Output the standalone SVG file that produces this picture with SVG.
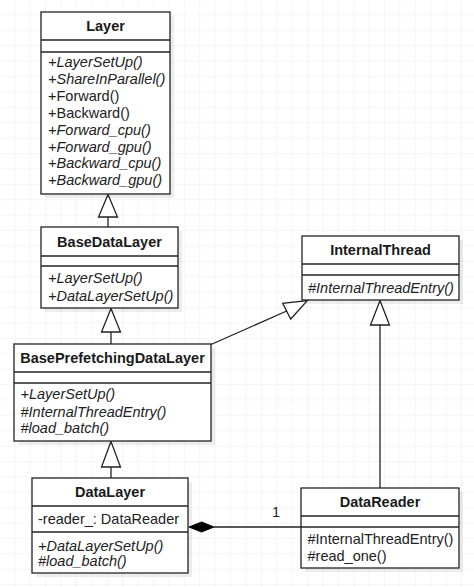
<svg xmlns="http://www.w3.org/2000/svg" width="474" height="587" viewBox="0 0 474 587">
<defs>
<pattern id="grid" width="15.4" height="15.4" patternUnits="userSpaceOnUse" x="0" y="0">
<path d="M15.4 0 V15.4 M0 15.4 H15.4" fill="none" stroke="#ececec" stroke-width="1"/>
</pattern>
<style>
.box{fill:#ffffff;stroke:#222222;stroke-width:1.3}
.shadow{fill:#000000;opacity:0.07}
.sep{stroke:#222222;stroke-width:1.3}
.title{font-family:"Liberation Sans",Arial,sans-serif;font-size:14.5px;font-weight:bold;fill:#1a1a1a;text-anchor:middle}
.m{font-family:"Liberation Sans",Arial,sans-serif;font-size:14.5px;fill:#222222}
.i{font-style:italic}
.line{fill:none;stroke:#222222;stroke-width:1.3}
.tri{fill:#ffffff;stroke:#222222;stroke-width:1.3}
.dia{fill:#000000;stroke:#000000;stroke-width:1}
</style>
</defs>
<rect width="474" height="587" fill="#ffffff"/>
<rect width="474" height="587" fill="url(#grid)"/>

<g id="connectors">
<!-- BaseDataLayer -> Layer -->
<line class="line" x1="108" y1="217" x2="108" y2="227"/>
<polygon class="tri" points="108,194.5 98.5,217 117.5,217"/>
<!-- BasePrefetchingDataLayer -> BaseDataLayer -->
<line class="line" x1="111" y1="332" x2="111" y2="344"/>
<polygon class="tri" points="111,308.5 101.5,332 120.5,332"/>
<!-- DataLayer -> BasePrefetchingDataLayer -->
<line class="line" x1="111" y1="467" x2="111" y2="478"/>
<polygon class="tri" points="111,441.5 101.5,467 120.5,467"/>
<!-- DataReader -> InternalThread -->
<line class="line" x1="380" y1="325" x2="380" y2="488"/>
<polygon class="tri" points="380,300.5 370.5,325 389.5,325"/>
<!-- BasePrefetchingDataLayer -> InternalThread -->
<line class="line" x1="211" y1="344.5" x2="286.7" y2="311"/>
<polygon class="tri" points="307.3,300.7 282.7,303.3 290.7,319"/>
<!-- composition DataLayer <>- DataReader -->
<line class="line" x1="214" y1="527" x2="301" y2="527"/>
<polygon class="dia" points="189,527 201.5,522 214,527 201.5,532"/>
<text class="m" x="276" y="517" text-anchor="middle">1</text>
</g>

<g id="Layer">
<rect class="shadow" x="45" y="16" width="129" height="182"/>
<rect class="box" x="41" y="12" width="129" height="182"/>
<line class="sep" x1="41" y1="40" x2="170" y2="40"/>
<line class="sep" x1="41" y1="52" x2="170" y2="52"/>
<text class="title" x="105.5" y="31">Layer</text>
<text class="m i" x="48" y="67">+LayerSetUp()</text>
<text class="m i" x="48" y="84">+ShareInParallel()</text>
<text class="m" x="48" y="101">+Forward()</text>
<text class="m" x="48" y="118">+Backward()</text>
<text class="m i" x="48" y="135">+Forward_cpu()</text>
<text class="m i" x="48" y="151.5">+Forward_gpu()</text>
<text class="m i" x="48" y="168">+Backward_cpu()</text>
<text class="m i" x="48" y="185">+Backward_gpu()</text>
</g>

<g id="BaseDataLayer">
<rect class="shadow" x="45" y="231" width="137" height="81"/>
<rect class="box" x="41" y="227" width="137" height="81"/>
<line class="sep" x1="41" y1="256" x2="178" y2="256"/>
<line class="sep" x1="41" y1="266" x2="178" y2="266"/>
<text class="title" x="109.5" y="247">BaseDataLayer</text>
<text class="m i" x="48" y="283">+LayerSetUp()</text>
<text class="m i" x="48" y="301">+DataLayerSetUp()</text>
</g>

<g id="BasePrefetchingDataLayer">
<rect class="shadow" x="18" y="348" width="197" height="97"/>
<rect class="box" x="14" y="344" width="197" height="97"/>
<line class="sep" x1="14" y1="372" x2="211" y2="372"/>
<line class="sep" x1="14" y1="383" x2="211" y2="383"/>
<text class="title" x="112.5" y="363">BasePrefetchingDataLayer</text>
<text class="m i" x="20.5" y="399">+LayerSetUp()</text>
<text class="m i" x="20.5" y="416.5">#InternalThreadEntry()</text>
<text class="m i" x="20.5" y="433">#load_batch()</text>
</g>

<g id="InternalThread">
<rect class="shadow" x="306" y="240" width="157" height="64"/>
<rect class="box" x="302" y="236" width="157" height="64"/>
<line class="sep" x1="302" y1="264" x2="459" y2="264"/>
<line class="sep" x1="302" y1="275" x2="459" y2="275"/>
<text class="title" x="380.5" y="255">InternalThread</text>
<text class="m i" x="308" y="293">#InternalThreadEntry()</text>
</g>

<g id="DataLayer">
<rect class="shadow" x="36" y="482" width="156" height="95"/>
<rect class="box" x="32" y="478" width="156" height="95"/>
<line class="sep" x1="32" y1="506" x2="188" y2="506"/>
<line class="sep" x1="32" y1="532" x2="188" y2="532"/>
<text class="title" x="110" y="497">DataLayer</text>
<text class="m" x="38" y="524">-reader_: DataReader</text>
<text class="m i" x="38" y="551">+DataLayerSetUp()</text>
<text class="m i" x="38" y="565.5">#load_batch()</text>
</g>

<g id="DataReader">
<rect class="shadow" x="305" y="492" width="158" height="80"/>
<rect class="box" x="301" y="488" width="158" height="80"/>
<line class="sep" x1="301" y1="516" x2="459" y2="516"/>
<line class="sep" x1="301" y1="527" x2="459" y2="527"/>
<text class="title" x="380" y="507">DataReader</text>
<text class="m" x="307.5" y="544">#InternalThreadEntry()</text>
<text class="m" x="307.5" y="561">#read_one()</text>
</g>
</svg>
